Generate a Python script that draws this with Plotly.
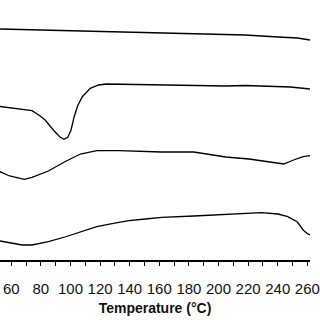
import plotly.graph_objects as go

# Temperature (°C) and heat flow (arbitrary units) for the four curves
t1 = [52.4, 81.9, 102.8, 135.5, 155.1, 194.4, 218.0, 240.2, 253.3, 261.8]
y1 = [11.55, 11.5, 11.45, 11.38, 11.35, 11.3, 11.25, 11.15, 11.1, 11.0]

t2 = [52.4, 60.9, 74.0, 78.6, 82.9, 88.4, 92.7, 95.6, 98.2, 100.4, 102.5, 104.8, 108.0, 113.4, 118.9, 124.4, 204.9, 218.0, 248.7, 261.8]
y2 = [7.675, 7.6, 7.465, 7.25, 7.0, 6.5, 6.165, 6.035, 6.135, 6.5, 7.165, 7.7, 8.165, 8.585, 8.75, 8.8, 8.7, 8.725, 8.65, 8.55]

t3 = [52.4, 58.9, 68.8, 74.0, 85.1, 96.2, 106.7, 117.8, 132.9, 161.7, 183.3, 204.9, 220.6, 233.7, 244.1, 250.7, 257.2, 261.8]
y3 = [4.415, 4.2, 4.035, 4.135, 4.45, 4.915, 5.3, 5.465, 5.465, 5.4, 5.4, 5.15, 5.05, 4.9, 4.8, 5.0, 5.165, 5.215]

t4 = [52.4, 67.4, 74.0, 85.1, 96.2, 106.7, 117.8, 129.0, 139.4, 150.6, 161.7, 183.3, 209.5, 229.1, 240.2, 246.8, 253.3, 257.2, 259.9, 261.8]
y4 = [0.95, 0.75, 0.75, 0.915, 1.15, 1.4, 1.665, 1.835, 1.965, 2.05, 2.135, 2.2, 2.3, 2.365, 2.3, 2.165, 1.9, 1.5, 1.325, 1.25]

tick_vals = [60, 80, 100, 120, 140, 160, 180, 200, 220, 240, 260]
tick_text = [str(v) for v in tick_vals]

fig = go.Figure()
for t, y in [(t1, y1), (t2, y2), (t3, y3), (t4, y4)]:
    fig.add_trace(go.Scatter(x=t, y=y, mode="lines",
                             line=dict(color="black", width=1.3), showlegend=False))

fig.update_layout(
    width=320, height=320,
    margin=dict(l=0, r=0, t=0, b=60),
    paper_bgcolor="white", plot_bgcolor="white",
    font=dict(family="Liberation Sans, Arial, sans-serif", color="#111"),
    xaxis=dict(
        range=[52.4, 261.8], tickvals=tick_vals, ticktext=tick_text,
        ticks="outside", ticklen=4, tickwidth=1, tickcolor="black",
        minor=dict(dtick=10, tick0=50, ticks="outside", ticklen=4, tickwidth=1, tickcolor="black"),
        showline=True, linecolor="black", linewidth=1.5,
        showgrid=False, zeroline=False,
        tickfont=dict(size=15), ticklabelstandoff=10, ticklabeloverflow="allow",
        title=dict(text="<b>Temperature (°C)</b>", font=dict(size=14), standoff=7),
    ),
    yaxis=dict(range=[0, 13], visible=False, showgrid=False, zeroline=False),
)

fig.write_html("out.html")
